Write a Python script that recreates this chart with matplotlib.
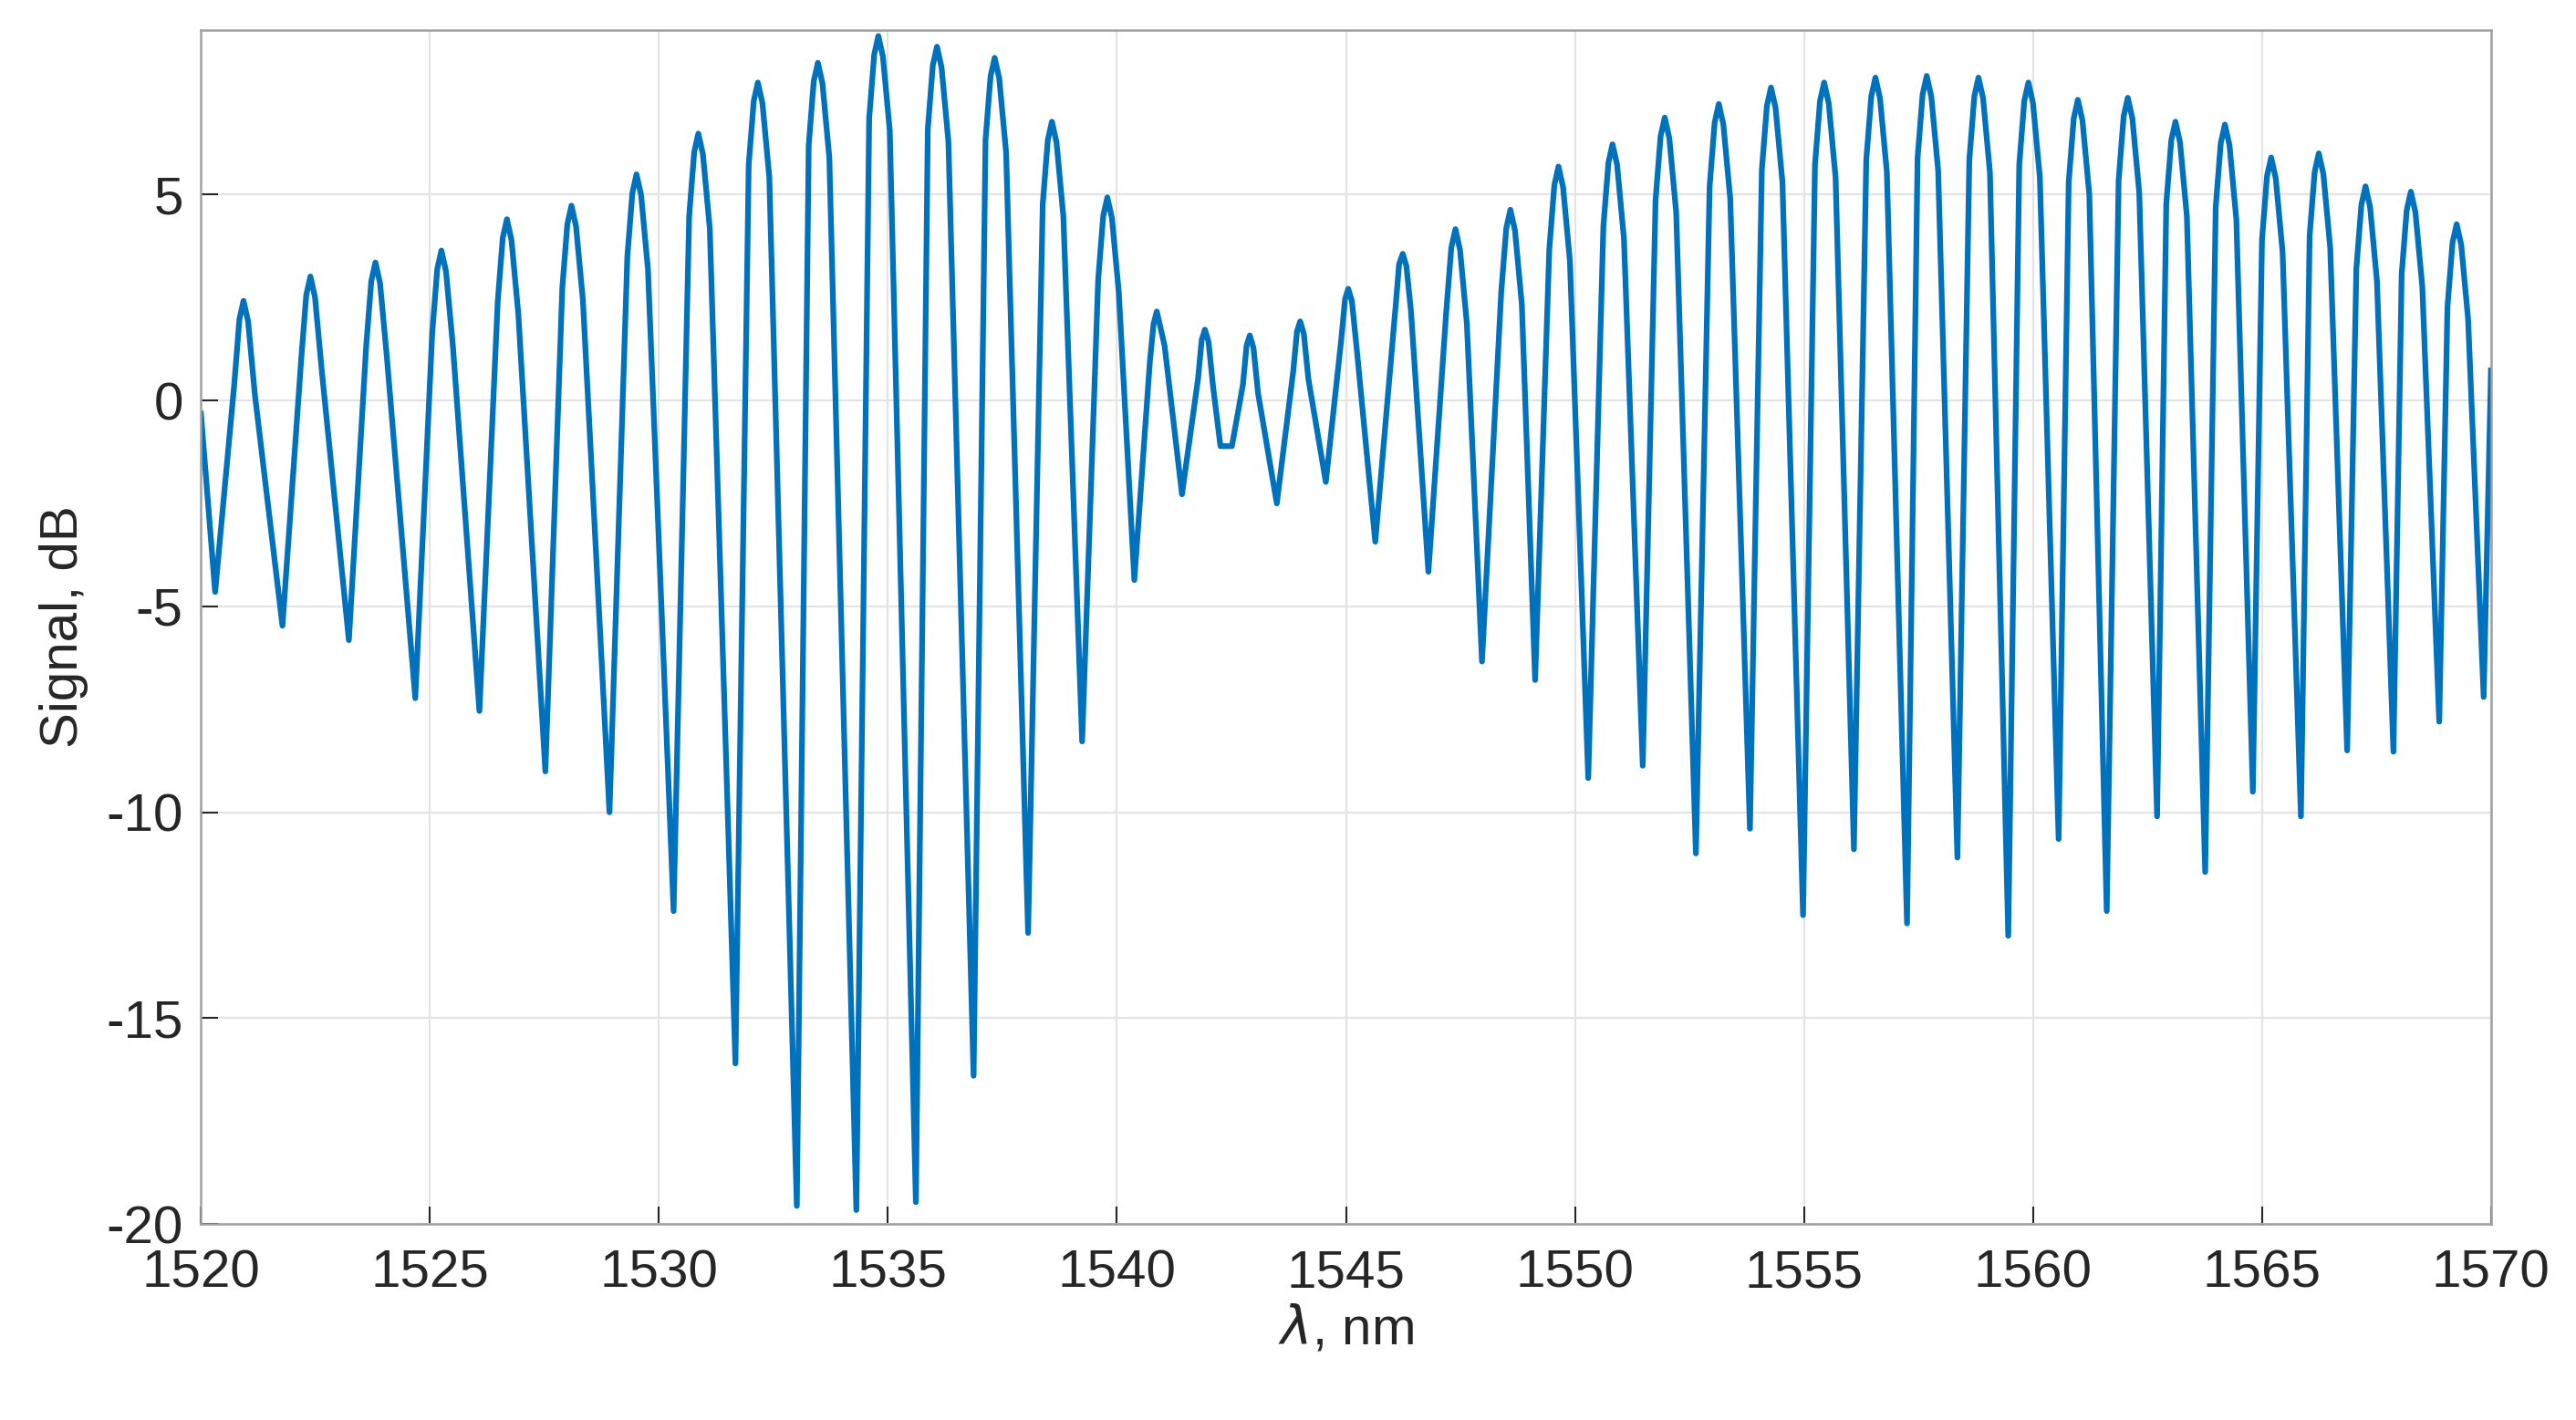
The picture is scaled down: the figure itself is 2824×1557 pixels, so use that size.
import numpy as np
import matplotlib
matplotlib.use("Agg")
import matplotlib.pyplot as plt

# extrema of the spectrum (nm, dB)
wavelength = [
    1520.00, 1520.31, 1520.93, 1521.78, 1522.39, 1523.23, 1523.81, 1524.68,
    1525.25, 1526.08, 1526.68, 1527.52, 1528.09, 1528.92, 1529.51, 1530.32,
    1530.86, 1531.67, 1532.16, 1533.01, 1533.47, 1534.31, 1534.79, 1535.61,
    1536.07, 1536.87, 1537.33, 1538.06, 1538.58, 1539.24, 1539.79, 1540.38,
    1540.87, 1541.04, 1541.42, 1541.92, 1542.26, 1542.51, 1542.90, 1543.49,
    1544.00, 1544.56, 1545.05, 1545.64, 1546.24, 1546.80, 1547.39, 1547.97,
    1548.59, 1549.13, 1549.64, 1550.29, 1550.82, 1551.48, 1551.96, 1552.64,
    1553.14, 1553.82, 1554.28, 1554.98, 1555.44, 1556.09, 1556.56, 1557.25,
    1557.68, 1558.35, 1558.81, 1559.46, 1559.90, 1560.56, 1560.98, 1561.61,
    1562.07, 1562.71, 1563.11, 1563.76, 1564.19, 1564.80, 1565.20, 1565.85,
    1566.24, 1566.86, 1567.26, 1567.87, 1568.25, 1568.87, 1569.25, 1569.84,
    1570.00,
]
signal = [
    -0.32, -4.65, 2.42, -5.47, 3.01, -5.82, 3.35, -7.23,
    3.64, -7.54, 4.40, -9.01, 4.73, -10.0, 5.49, -12.4,
    6.48, -16.1, 7.72, -19.56, 8.20, -19.66, 8.85, -19.47,
    8.59, -16.4, 8.32, -12.93, 6.77, -8.28, 4.93, -4.36,
    2.16, 1.33, -2.28, 1.72, -1.11, -1.11, 1.58, -2.50,
    1.92, -1.98, 2.71, -3.43, 3.56, -4.16, 4.16, -6.34,
    4.63, -6.79, 5.68, -9.17, 6.22, -8.87, 6.87, -11.0,
    7.20, -10.4, 7.60, -12.5, 7.72, -10.9, 7.84, -12.7,
    7.88, -11.1, 7.84, -13.0, 7.72, -10.65, 7.30, -12.4,
    7.35, -10.1, 6.77, -11.45, 6.70, -9.5, 5.90, -10.1,
    6.00, -8.5, 5.20, -8.53, 5.07, -7.8, 4.28, -7.2,
    0.73,
]

# points on the rounded flanks of each peak (nm, dB)
shoulder_wl = [
    1520.73, 1521.18, 1522.19, 1522.64, 1523.61, 1524.06, 1525.05, 1525.50,
    1526.48, 1526.93, 1527.89, 1528.34, 1529.31, 1529.76, 1530.66, 1531.11,
    1531.96, 1532.41, 1533.27, 1533.72, 1534.59, 1535.04, 1535.87, 1536.32,
    1537.13, 1537.58, 1538.38, 1538.83, 1539.59, 1540.04, 1540.72,
    1541.77, 1542.10, 1542.75, 1543.08, 1543.85, 1544.18, 1544.90, 1545.23,
    1546.09, 1546.42, 1547.19, 1547.64, 1548.39, 1548.84, 1549.44, 1549.89,
    1550.62, 1551.07, 1551.76, 1552.21, 1552.94, 1553.39, 1554.08, 1554.53,
    1555.24, 1555.69, 1556.36, 1556.81, 1557.48, 1557.93, 1558.61, 1559.06,
    1559.70, 1560.15, 1560.78, 1561.23, 1561.87, 1562.32, 1562.91, 1563.36,
    1563.99, 1564.44, 1565.00, 1565.45, 1566.04, 1566.49, 1567.06, 1567.51,
    1568.05, 1568.50, 1569.05, 1569.50,
]
shoulder_db = [
    0.42, 0.12, 1.01, 0.71, 1.35, 1.05, 1.64, 1.34,
    2.40, 2.10, 2.73, 2.43, 3.49, 3.19, 4.48, 4.18,
    5.72, 5.42, 6.20, 5.90, 6.85, 6.55, 6.59, 6.29,
    6.32, 6.02, 4.77, 4.47, 2.93, 2.63, 0.96,
    0.52, 0.32, 0.38, 0.18, 0.72, 0.52, 1.51, 1.31,
    2.36, 2.16, 2.16, 1.86, 2.63, 2.33, 3.68, 3.38,
    4.22, 3.92, 4.87, 4.57, 5.20, 4.90, 5.60, 5.30,
    5.72, 5.42, 5.84, 5.54, 5.88, 5.58, 5.84, 5.54,
    5.72, 5.42, 5.30, 5.00, 5.35, 5.05, 4.77, 4.47,
    4.70, 4.40, 3.90, 3.60, 4.00, 3.70, 3.20, 2.90,
    3.07, 2.77, 2.28, 1.98,
]

# points close to the top of each peak (nm, dB)
cap_wl = [
    1520.84, 1521.03, 1522.30, 1522.49, 1523.72, 1523.91, 1525.16, 1525.35,
    1526.59, 1526.78, 1528.00, 1528.19, 1529.42, 1529.61, 1530.77, 1530.96,
    1532.07, 1532.26, 1533.38, 1533.57, 1534.70, 1534.89, 1535.98, 1536.17,
    1537.24, 1537.43, 1538.49, 1538.68, 1539.70, 1539.89, 1540.80,
    1541.85, 1542.00, 1542.83, 1542.98, 1543.93, 1544.08, 1544.98, 1545.13,
    1546.16, 1546.32, 1547.30, 1547.49, 1548.50, 1548.69, 1549.55, 1549.74,
    1550.73, 1550.92, 1551.87, 1552.06, 1553.05, 1553.24, 1554.19, 1554.38,
    1555.35, 1555.54, 1556.47, 1556.66, 1557.59, 1557.78, 1558.72, 1558.91,
    1559.81, 1560.00, 1560.89, 1561.08, 1561.98, 1562.17, 1563.02, 1563.21,
    1564.10, 1564.29, 1565.11, 1565.30, 1566.15, 1566.34, 1567.17, 1567.36,
    1568.16, 1568.35, 1569.16, 1569.35,
]
cap_db = [
    1.97, 1.92, 2.56, 2.51, 2.90, 2.85, 3.19, 3.14,
    3.95, 3.90, 4.28, 4.23, 5.04, 4.99, 6.03, 5.98,
    7.27, 7.22, 7.75, 7.70, 8.40, 8.35, 8.14, 8.09,
    7.87, 7.82, 6.32, 6.27, 4.48, 4.43, 1.86,
    1.47, 1.42, 1.33, 1.28, 1.67, 1.62, 2.46, 2.41,
    3.31, 3.26, 3.71, 3.66, 4.18, 4.13, 5.23, 5.18,
    5.77, 5.72, 6.42, 6.37, 6.75, 6.70, 7.15, 7.10,
    7.27, 7.22, 7.39, 7.34, 7.43, 7.38, 7.39, 7.34,
    7.27, 7.22, 6.85, 6.80, 6.90, 6.85, 6.32, 6.27,
    6.25, 6.20, 5.45, 5.40, 5.55, 5.50, 4.75, 4.70,
    4.62, 4.57, 3.83, 3.78,
]

xticks = [1520, 1525, 1530, 1535, 1540, 1545, 1550, 1555, 1560, 1565, 1570]
yticks = [-20, -15, -10, -5, 0, 5]

plt.rcParams['font.family'] = ['Liberation Sans', 'DejaVu Sans']
plt.rcParams['axes.unicode_minus'] = False

# merge all read points into one trace, ordered by wavelength
wl_all = np.array(wavelength + shoulder_wl + cap_wl)
db_all = np.array(signal + shoulder_db + cap_db)
order = np.argsort(wl_all)

fig = plt.figure(figsize=(28.24, 15.57), dpi=100)
ax = fig.add_axes([0.078, 0.138, 0.889, 0.841])

ax.plot(wl_all[order], db_all[order], color='#0072BD', lw=4.5,
        solid_joinstyle='round')

ax.set_xlim(1520, 1570)
ax.set_ylim(-20, 9)
ax.set_xticks(xticks)
ax.set_yticks(yticks)
ax.grid(True, color='#e3e3e3', lw=1.5)
ax.set_axisbelow(True)
ax.tick_params(direction='in', length=14, width=1.5, colors='#262626',
               labelsize=42)
ax.tick_params(axis='x', pad=20)
ax.tick_params(axis='y', pad=14)
for sp in ax.spines.values():
    sp.set_color('#a0a0a0')
    sp.set_linewidth(1.8)

ax.set_xlabel(r'$\lambda$, nm', fontsize=42, color='#262626', labelpad=4)
ax.set_ylabel('Signal, dB', fontsize=42, color='#262626', labelpad=14)

fig.savefig('out.png', dpi=100)
